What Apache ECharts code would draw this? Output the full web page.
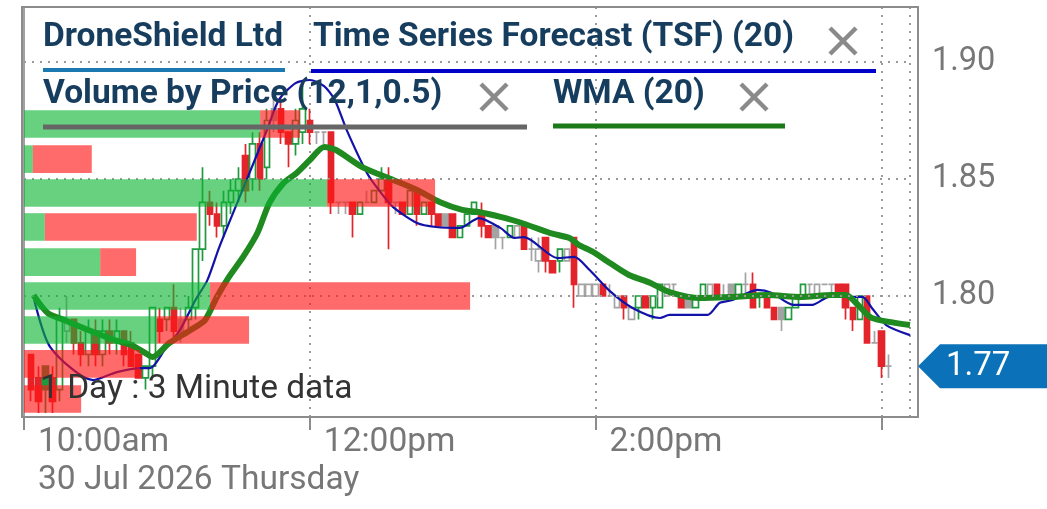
<!DOCTYPE html>
<html><head><meta charset="utf-8">
<script src="https://cdn.jsdelivr.net/npm/echarts@6/dist/echarts.min.js"></script>
<style>html,body{margin:0;padding:0;background:#fff}#c{width:1047px;height:509px}</style>
</head><body><div id="c"></div>
<script>
// ---- data (minutes after 10:00am, prices in A$) ----
const candleTimes = [3,6,9,12,15,18,21,24,27,30,33,36,39,42,45,48,51,54,57,60,
  63,66,69,72,75,78,81,84,87,90,93,96,99,102,105,108,111,114,117,120,
  123,126,129,132,135,138,141,144,147,150,153,156,159,162,165,168,171,174,177,180,
  183,186,189,192,195,198,201,204,207,210,213,216,219,222,225,228,231,234,237,240,
  243,246,249,252,255,258,261,264,267,270,273,276,279,282,285,288,291,294,297,300,
  303,306,309,312,315,318,321,324,327,330,333,336,339,342,345,348,351,354,357,360,363];
const opens = [1.775,1.765,1.770,1.765,1.760,1.785,1.790,1.780,1.775,1.785,1.775,1.785,1.780,1.785,1.780,1.775,1.765,1.770,1.790,1.790,
  1.795,1.790,1.790,1.795,1.820,1.840,1.835,1.830,1.840,1.845,1.860,1.850,1.865,1.855,1.880,1.880,1.870,1.865,1.870,1.875,
  1.870,1.870,1.870,1.840,1.840,1.840,1.835,1.840,1.840,1.845,1.850,1.840,1.840,1.835,1.845,1.835,1.840,1.835,1.835,1.835,
  1.825,1.830,1.835,1.835,1.830,1.830,1.825,1.825,1.825,1.830,1.820,1.815,1.825,1.815,1.815,1.815,1.825,1.800,1.800,1.800,
  1.805,1.800,1.795,1.800,1.790,1.795,1.800,1.795,1.795,1.800,1.805,1.800,1.800,1.795,1.800,1.800,1.805,1.800,1.805,1.800,
  1.805,1.805,1.800,1.800,1.795,1.795,1.790,1.795,1.800,1.805,1.800,1.805,1.805,1.805,1.805,1.795,1.790,1.800,1.780,1.785,1.770];
const closes = [1.760,1.755,1.760,1.755,1.790,1.790,1.780,1.775,1.785,1.775,1.785,1.780,1.785,1.775,1.770,1.765,1.770,1.795,1.785,1.795,
  1.785,1.785,1.795,1.820,1.840,1.835,1.830,1.840,1.845,1.850,1.845,1.865,1.850,1.875,1.875,1.870,1.865,1.875,1.880,1.870,
  1.870,1.870,1.840,1.840,1.840,1.835,1.840,1.840,1.845,1.850,1.840,1.840,1.835,1.845,1.835,1.840,1.835,1.830,1.830,1.825,
  1.830,1.835,1.840,1.830,1.825,1.825,1.825,1.830,1.830,1.820,1.820,1.820,1.815,1.810,1.820,1.820,1.805,1.805,1.805,1.805,
  1.800,1.800,1.800,1.795,1.795,1.800,1.795,1.800,1.805,1.805,1.805,1.795,1.795,1.800,1.805,1.805,1.800,1.800,1.800,1.805,
  1.805,1.795,1.800,1.795,1.790,1.790,1.795,1.800,1.805,1.805,1.805,1.805,1.805,1.800,1.795,1.790,1.800,1.780,1.780,1.770,1.770];
const lows = [1.755,1.750,1.750,1.750,1.755,1.780,1.775,1.770,1.770,1.770,1.770,1.775,1.775,1.770,1.770,1.765,1.760,1.765,1.780,1.785,
  1.780,1.780,1.785,1.790,1.815,1.830,1.825,1.825,1.835,1.840,1.840,1.845,1.845,1.850,1.870,1.865,1.855,1.860,1.865,1.865,
  1.865,1.865,1.835,1.835,1.835,1.825,1.835,1.840,1.840,1.845,1.820,1.835,1.835,1.835,1.830,1.835,1.830,1.830,1.830,1.825,
  1.825,1.830,1.835,1.825,1.825,1.820,1.820,1.825,1.825,1.820,1.815,1.810,1.810,1.810,1.810,1.815,1.795,1.800,1.800,1.800,
  1.800,1.800,1.795,1.790,1.790,1.790,1.795,1.790,1.795,1.800,1.800,1.795,1.795,1.795,1.800,1.800,1.800,1.800,1.800,1.800,
  1.800,1.795,1.795,1.795,1.790,1.785,1.790,1.795,1.800,1.800,1.800,1.805,1.800,1.800,1.790,1.785,1.790,1.780,1.780,1.765,1.765];
const highs = [1.775,1.770,1.770,1.770,1.795,1.800,1.790,1.785,1.790,1.790,1.790,1.790,1.790,1.785,1.785,1.775,1.770,1.795,1.795,1.795,
  1.805,1.795,1.800,1.820,1.855,1.845,1.840,1.845,1.850,1.855,1.865,1.870,1.870,1.880,1.885,1.885,1.870,1.880,1.890,1.880,
  1.870,1.870,1.870,1.840,1.840,1.840,1.840,1.845,1.845,1.855,1.855,1.840,1.840,1.845,1.845,1.840,1.840,1.835,1.835,1.835,
  1.830,1.835,1.840,1.840,1.830,1.830,1.825,1.830,1.830,1.830,1.825,1.825,1.825,1.815,1.820,1.820,1.825,1.805,1.805,1.805,
  1.805,1.805,1.800,1.800,1.795,1.800,1.800,1.800,1.805,1.805,1.805,1.800,1.800,1.800,1.805,1.805,1.805,1.805,1.805,1.805,
  1.810,1.810,1.800,1.800,1.795,1.795,1.795,1.800,1.805,1.805,1.805,1.805,1.805,1.805,1.805,1.795,1.800,1.800,1.785,1.785,1.775];

// Time Series Forecast (20)
const tsfTimes  = [4,11,29,39,49,53,59,65.5,72,77,82,94,102,107,114,120,126,130.5,135.5,144,149,155,165,173,183,191,200,206,210,224,231,237.5,246,255.5,267,271,287,292,297.5,308,314,323,331,338,352,356,362,372];
const tsfValues = [1.7996,1.7782,1.7641,1.7675,1.7692,1.7692,1.7769,1.7855,1.7983,1.8068,1.8209,1.8509,1.8709,1.8838,1.8910,1.8923,1.8897,1.8838,1.8709,1.8526,1.8453,1.8380,1.8312,1.8295,1.8291,1.8333,1.8291,1.8248,1.8252,1.8162,1.8167,1.8111,1.8021,1.7949,1.7906,1.7919,1.7919,1.7970,1.7983,1.8026,1.8013,1.7962,1.7962,1.7996,1.7996,1.7949,1.7876,1.7833];
// WMA (20)
const wmaTimes  = [4,10,17,27,38,45,51,54,61,70,76,81,86,92,98,103,109,114.5,120,126,131,142,155,165,174.5,184,191,200,209,221,229,233,239,246,254,263,271,284,297.5,312,326,339,345,351,356,372];
const wmaValues = [1.8004,1.7927,1.7897,1.7855,1.7812,1.7791,1.7756,1.7739,1.7799,1.7855,1.7897,1.7996,1.8081,1.8167,1.8269,1.8397,1.8483,1.8526,1.8581,1.8637,1.8624,1.8551,1.8496,1.8453,1.8402,1.8368,1.8359,1.8338,1.8312,1.8269,1.8248,1.8218,1.8188,1.8141,1.8090,1.8056,1.8017,1.7991,1.7996,1.8004,1.7996,1.8004,1.8004,1.7953,1.7906,1.7876];

// Volume by Price (12,1,0.5): bin centre price, up volume, down volume (shares)
const vbpCenters    = [1.8735,1.8585,1.8440,1.8295,1.8145,1.8000,1.7855,1.7710,1.7560];
const vbpUpVolume   = [533000,20000,684000,47000,172000,420000,300000,0,0];
const vbpDownVolume = [90000,133000,244000,343000,81000,587000,208000,262000,129000];
const vbpHalfBin = 0.0059;

const priceGridLevels = [1.80,1.85,1.90];
const timeTickLabels = {0:'10:00am',120:'12:00pm',240:'2:00pm'};
const dateText = '30 Jul 2026 Thursday';
const periodText = '1 Day : 3 Minute data';
const lastPrice = 1.77;

// ---- styling ----
const GREEN = '#1f9a3f', RED = '#e3242b', GRAY = '#a3a3a3';
const FONT = 'Roboto, "Noto Sans", sans-serif';

function candleStyle(i){
  const prev = i > 0 ? closes[i-1] : opens[i];
  const c = closes[i];
  const col = c > prev + 1e-9 ? GREEN : (c < prev - 1e-9 ? RED : GRAY);
  const fill = c < opens[i] - 1e-9 ? col : '#ffffff';
  return {color: fill, color0: fill, borderColor: col, borderColor0: col, borderColorDoji: col, borderWidth: 1.7};
}

const candleData = candleTimes.map((t,i)=>({value:[t, opens[i], closes[i], lows[i], highs[i]], itemStyle: candleStyle(i)}));
const tsfData = tsfTimes.map((t,i)=>[t, tsfValues[i]]);
const wmaData = wmaTimes.map((t,i)=>[t, wmaValues[i]]);
const vbpData = vbpCenters.map((c,i)=>[c, vbpUpVolume[i], vbpDownVolume[i]]);

const chart = echarts.init(document.getElementById('c'), null, {renderer:'canvas'});

function legendX(cx, cy){
  const s = 13;
  return [
    {type:'line', shape:{x1:cx-s,y1:cy-s,x2:cx+s,y2:cy+s}, style:{stroke:'#8a8a8a', lineWidth:4.5}, z:20},
    {type:'line', shape:{x1:cx-s,y1:cy+s,x2:cx+s,y2:cy-s}, style:{stroke:'#8a8a8a', lineWidth:4.5}, z:20}
  ];
}
function legendText(x, y, text){
  return {type:'text', x:x, y:y, z:20, style:{text:text, fill:'#173d5e', font:'bold 33.5px ' + FONT, verticalAlign:'middle', align:'left'}};
}
function legendBar(x1, x2, y, color, h){
  return {type:'rect', shape:{x:x1, y:y-h/2, width:x2-x1, height:h}, style:{fill:color}, z:20};
}

const option = {
  animation: false,
  backgroundColor: '#ffffff',
  grid: {left: 24, right: 137, top: 7, bottom: 92, containLabel: false},
  xAxis: [{
    type: 'value', min: 0, max: 372, interval: 120,
    axisLine: {show: true, lineStyle: {color: '#8c8c8c', width: 2}},
    axisTick: {show: true, length: 13, lineStyle: {color: '#8c8c8c', width: 2}},
    axisLabel: {
      formatter: v => timeTickLabels[Math.round(v)] || '',
      align: 'left', padding: [0,0,0,14], margin: 9,
      color: '#777777', fontSize: 33.5, fontFamily: FONT, showMaxLabel: false
    },
    splitLine: {show: true, lineStyle: {color: '#9a9a9a', width: 2, type: [2,6]}}
  }, {
    type: 'value', min: 0, max: 2000000, show: false
  }],
  yAxis: [{
    type: 'value', position: 'right', min: 1.7483, max: 1.9235, splitNumber: 3, scale: true,
    axisLine: {show: true, lineStyle: {color: '#a0a0a0', width: 2}},
    axisTick: {show: false},
    splitLine: {show: false},
    axisLabel: {
      formatter: v => priceGridLevels.some(g => Math.abs(g - v) < 1e-6) ? v.toFixed(2) : '',
      color: '#777777', fontSize: 32.5, fontFamily: FONT, margin: 22
    }
  }],
  series: [
    {
      type: 'candlestick', name: 'DroneShield Ltd', xAxisIndex: 0, yAxisIndex: 0,
      data: candleData, barWidth: 6, z: 2, clip: true
    },
    {
      type: 'line', name: 'Time Series Forecast (TSF) (20)', data: tsfData, showSymbol: false, symbol: 'none',
      smooth: 0.25, lineStyle: {color: '#1212a8', width: 2.2}, z: 3,
      markLine: {
        silent: true, symbol: 'none', label: {show: false},
        lineStyle: {color: '#9a9a9a', width: 2, type: [2,6]},
        data: priceGridLevels.map(v => ({yAxis: v}))
      }
    },
    {
      type: 'line', name: 'WMA (20)', data: wmaData, showSymbol: false, symbol: 'none',
      smooth: 0.25, lineStyle: {color: '#1f8a1f', width: 6}, z: 4
    },
    {
      type: 'custom', name: 'Volume by Price', xAxisIndex: 1, yAxisIndex: 0, z: 5,
      data: vbpData, encode: {y: 0, x: [1, 2]},
      renderItem: function(params, api){
        const c = api.value(0), up = api.value(1), dn = api.value(2);
        const top = api.coord([0, c + vbpHalfBin])[1];
        const bot = api.coord([0, c - vbpHalfBin])[1];
        const x0 = api.coord([0, c])[0];
        const x1 = api.coord([up, c])[0];
        const x2 = api.coord([up + dn, c])[0];
        return {type: 'group', children: [
          {type: 'rect', shape: {x: x0, y: top, width: x1 - x0, height: bot - top}, style: {fill: 'rgba(12,180,50,0.62)'}},
          {type: 'rect', shape: {x: x1, y: top, width: x2 - x1, height: bot - top}, style: {fill: 'rgba(255,22,22,0.64)'}}
        ]};
      }
    }
  ],
  graphic: []
};

chart.setOption(option);

// decorations placed with the chart's own scales
const yLast = chart.convertToPixel({yAxisIndex: 0}, lastPrice);
const xRight = chart.convertToPixel({xAxisIndex: 0}, 372);
const xLeft = chart.convertToPixel({xAxisIndex: 0}, 0);
const yBottom = chart.convertToPixel({yAxisIndex: 0}, 1.7483);
const yTop = chart.convertToPixel({yAxisIndex: 0}, 1.9235);

const g = [];
// frame
g.push({type:'rect', shape:{x:xLeft-2, y:yTop, width:(xRight+8)-(xLeft-2), height:yBottom-yTop}, style:{fill:'none', stroke:'#8c8c8c', lineWidth:2}, z:30});
// legend
g.push(legendText(43, 38, 'DroneShield Ltd'));
g.push(legendBar(43, 285, 70, '#1c78b0', 4));
g.push(legendText(313, 38, 'Time Series Forecast (TSF) (20)'));
g.push(legendBar(311, 876, 71, '#0000c8', 4));
g.push(...legendX(843, 41));
g.push(legendText(43, 95, 'Volume by Price (12,1,0.5)'));
g.push(legendBar(43, 527, 127, '#666666', 5));
g.push(...legendX(494, 97));
g.push(legendText(553, 95, 'WMA (20)'));
g.push(legendBar(553, 785, 126, '#1a7a1a', 5));
g.push(...legendX(754, 97));
// period text
g.push({type:'text', x:40, y:390, z:25, style:{text:periodText, fill:'#333333', font:'33.5px ' + FONT, verticalAlign:'middle'}});
// date text
g.push({type:'text', x:38, y:481, z:25, style:{text:dateText, fill:'#777777', font:'33.5px ' + FONT, verticalAlign:'middle'}});
// last price tag
g.push({type:'polygon', shape:{points:[[xRight+8, yLast],[xRight+30, yLast-22],[1047, yLast-22],[1047, yLast+22],[xRight+30, yLast+22]]}, style:{fill:'#0b72b9'}, z:30});
g.push({type:'text', x:xRight+36, y:yLast+1, z:31, style:{text:lastPrice.toFixed(2), fill:'#ffffff', font:'33px ' + FONT, verticalAlign:'middle'}});

chart.setOption({graphic: g});
</script>
</body></html>
